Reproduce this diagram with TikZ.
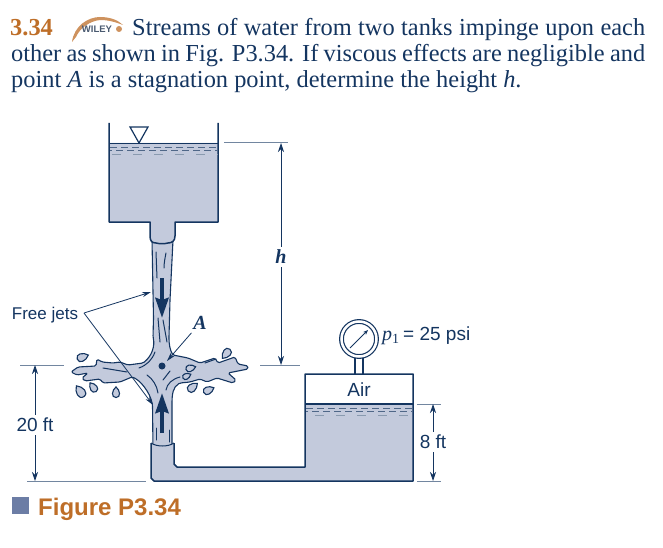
\documentclass[tikz,border=0pt]{standalone}
\usepackage{fontspec}
\setmainfont{Liberation Serif}
\setsansfont{Liberation Sans}
\usetikzlibrary{arrows.meta}
\definecolor{inkblue}{HTML}{143560}
\definecolor{waterblue}{HTML}{C3CADC}
\definecolor{titleorange}{HTML}{BE6E28}
\definecolor{squareblue}{HTML}{6C7DA5}
\begin{document}
\begin{tikzpicture}[
x=1pt,y=-1pt,
textnode/.style={anchor=base west,inner sep=0pt,text=inkblue,font=\fontsize{24.4}{26}\selectfont},
labelnode/.style={inner sep=3pt,text=inkblue,font=\sffamily\fontsize{19}{22}\selectfont},
mathnode/.style={inner sep=3pt,text=inkblue,font=\fontsize{20}{22}\selectfont\itshape},
wall/.style={draw=inkblue,line width=1.5pt,line join=round},
water/.style={fill=waterblue,draw=none},
jet/.style={fill=waterblue,draw=inkblue,line width=1.1pt,line join=round,rounded corners=1.5pt},
flowline/.style={draw=inkblue,line width=1pt,line cap=round},
ripple/.style={draw=inkblue!75,line width=.8pt,dash pattern=on 7pt off 4pt},
rippleoff/.style={draw=inkblue!75,line width=.8pt,dash pattern=on 7pt off 4pt,dash phase=5pt},
rippleshort/.style={draw=inkblue!50,line width=.8pt,dash pattern=on 9pt off 12pt},
dimline/.style={draw=inkblue,line width=.8pt,-{Stealth[length=9pt,width=6pt]}},
leader/.style={draw=inkblue,line width=.8pt,-{Stealth[length=9pt,width=5pt]}},
jetarrow/.style={draw=inkblue,line width=4pt,-{Stealth[length=20pt,width=13pt,inset=2pt]}},
extline/.style={draw=inkblue!60,line width=1pt},
droplet/.style={fill=waterblue,draw=inkblue,line width=1.1pt},
]
\useasboundingbox (0,0) rectangle (663,548);
% problem statement
\node[textnode,text=titleorange,font=\bfseries\fontsize{24.4}{26}\selectfont](num) at (10,36) {3.34};
\draw[draw=none,fill=titleorange!75] (72,42) .. controls (74,26) and (88,17) .. (100,17) .. controls (110,17) and (118,20) .. (123,25) .. controls (113,21) and (106,20) .. (100,20) .. controls (90,21) and (80,28) .. (76,37) -- cycle;
\node[inner sep=0pt,text=inkblue!50!gray,font=\sffamily\bfseries\fontsize{9.5}{10}\selectfont](logo) at (97,29) {WILEY};
\fill[titleorange!75] (119,29) circle (3);
\node[textnode](line1) at (132,36) {\makebox[513pt][s]{Streams of water from two tanks impinge upon each}};
\node[textnode](line2) at (11,62) {\makebox[634pt][s]{other as shown in Fig. P3.34. If viscous effects are negligible and}};
\node[textnode](line3) at (11,88) {point \textit{A} is a stagnation point, determine the height \textit{h}.};
% upper jet and splash
\path[jet] (152,240) -- (153.5,318) -- (153,337) .. controls (155,346) and (152,356) .. (143,363)
  -- (128,365) -- (120,362) -- (113,363) -- (102,362) -- (97,359) -- (96,366) -- (78,367) -- (71,372)
  -- (77,375) -- (88,373) -- (82,378) -- (85,381) -- (100,379) -- (103,383) -- (120,382) -- (132,377)
  .. controls (140,380) and (150,392) .. (152.5,405)
  -- (153,450) -- (172,450) -- (172,405) .. controls (172,394) and (173,387) .. (180,383)
  -- (190,382) -- (200,379) -- (207,382) -- (217,378) -- (233,383) -- (236,380) -- (228,373)
  -- (248,369) -- (248,366) -- (238,364) -- (235,357) -- (218,363) -- (215,358) -- (200,363)
  -- (188,358) -- (173,355) .. controls (170,350) and (169,344) .. (169,337) -- (170,300) -- (173,240) -- cycle;
% flow lines
\draw[flowline] (156,252) -- (157,278);
\draw[flowline] (166,253) .. controls (165,258) and (164,263) .. (164,268);
\draw[flowline] (158,318) -- (160,342);
\draw[flowline] (163,320) -- (167,342);
\draw[flowline] (155,352) .. controls (152,360) and (147,365) .. (139,368);
\draw[flowline] (103,368) -- (127,372);
\draw[flowline] (147,375) .. controls (153,379) and (157,386) .. (158,393);
\draw[flowline] (170,371) -- (163,380);
\draw[flowline] (180,377) .. controls (172,379) and (167,384) .. (166,390);
\draw[flowline] (205,363) -- (216,359);
\draw[flowline] (156,428) -- (156,440);
\draw[flowline] (169,430) -- (169,442);
% jet arrows
\coordinate (jettop) at (162,278);
\coordinate (jettip) at (162,318);
\coordinate (risebot) at (162,433);
\coordinate (risetip) at (162,393);
\draw[jetarrow] (jettop) -- (jettip);
\draw[jetarrow] (risebot) -- (risetip);
% droplets
\foreach \dx/\dy/\rot/\sz in {83/357/20/.95,226/354/-130/.95,191/368/15/.8,187/376/25/.7,193/387/40/.95,209/390/25/.9,80/391/125/1.05,93/387/125/.85,116/392/90/.85}
  \draw[droplet,shift={(\dx,\dy)},rotate=\rot,scale=\sz] (6,0) .. controls (2,-5) and (-6.5,-6) .. (-6.5,0) .. controls (-6.5,6) and (2,5) .. (6,0) -- cycle;
\node[circle,fill=inkblue,inner sep=0pt,minimum size=7pt](stag) at (162,366) {};
% upper tank
\path[water] (109,143) -- (218,143) -- (218,222) -- (175,222) -- (175,236)
  .. controls (175,241) and (172,243) .. (168,243) .. controls (164,244) and (160,244) .. (156,243) .. controls (152,243) and (150,241) .. (150,236)
  -- (150,222) -- (109,222) -- cycle;
\draw[wall] (109,123) -- (109,222) -- (150,222) -- (150,236)
  .. controls (150,241) and (152,243) .. (156,243) .. controls (160,244) and (164,244) .. (168,243) .. controls (172,243) and (175,241) .. (175,236)
  -- (175,222) -- (218,222) -- (218,123);
\draw[draw=inkblue,line width=.9pt] (109,143) -- (218,143);
\draw[ripple] (110,147) -- (218,147);
\draw[rippleoff] (110,150.5) -- (218,150.5);
\draw[rippleshort] (112,154) -- (218,154);
\draw[draw=inkblue,line width=1.2pt,line join=miter] (130,127) -- (148,127) -- (139,143) -- cycle;
% lower tank and pipe
\path[water] (151,443) -- (151,478) -- (154,481) -- (413,481) -- (413,404) -- (305,404) -- (305,467) -- (177,467) -- (174,464) -- (174,443)
  .. controls (168,447) and (157,447) .. (151,443) -- cycle;
\draw[wall] (174,443) -- (174,464) -- (177,467) -- (305,467) -- (305,374) -- (413,374) -- (413,481) -- (154,481) -- (151,478) -- (151,443);
\draw[draw=inkblue,line width=1pt] (151,443) .. controls (157,447) and (168,447) .. (174,443);
\draw[draw=inkblue,line width=1.2pt] (305,404) -- (413,404);
\draw[ripple] (306,408) -- (412,408);
\draw[rippleoff] (306,411) -- (412,411);
\draw[rippleshort] (315,415) -- (412,415);
\node[labelnode](air) at (359,390) {Air};
% gauge
\draw[draw=inkblue,line width=1.1pt] (355,358) -- (355,374) (363,358) -- (363,374);
\node[circle,draw=inkblue,fill=white,double=white,double distance=2.5pt,line width=1.2pt,minimum size=35pt,inner sep=0pt](gauge) at (359,339) {};
\coordinate (needlefrom) at (350,348);
\coordinate (needleto) at (368,330);
\draw[draw=inkblue,line width=1pt,-{Stealth[length=5pt,width=4pt]}] (needlefrom) -- (needleto);
\node[mathnode,anchor=west,inner sep=1pt](pone) at (381,338) {p\textsubscript{\normalfont 1}};
\node[labelnode,anchor=west,inner sep=1pt](psi) at (402,336) {= 25 psi};
% dimensions
\draw[extline] (224,143) -- (288,143);
\draw[extline] (260,365) -- (300,365);
\draw[extline] (20,365) -- (64,365);
\draw[extline] (27,481) -- (146,481);
\draw[extline] (417,404) -- (441,404);
\draw[extline] (417,481) -- (441,481);
\node[mathnode,font=\bfseries\fontsize{20}{22}\selectfont\itshape](hlabel) at (281,257) {h};
\node[labelnode](twenty) at (35,425) {20 ft};
\node[labelnode](eight) at (433,442) {8 ft};
\coordinate (htop) at (281,143);
\coordinate (hbot) at (281,365);
\coordinate (twtop) at (35,365);
\coordinate (twbot) at (35,481);
\coordinate (eitop) at (433,404);
\coordinate (eibot) at (433,481);
\draw[dimline] (hlabel) -- (htop);
\draw[dimline] (hlabel) -- (hbot);
\draw[dimline] (twenty) -- (twtop);
\draw[dimline] (twenty) -- (twbot);
\draw[dimline] (eight) -- (eitop);
\draw[dimline] (eight) -- (eibot);
% free jets and point A
\node[labelnode,inner sep=1pt,font=\sffamily\fontsize{17}{20}\selectfont](free) at (45,315) {Free jets};
\coordinate (freefork) at (84,313);
\coordinate (freeup) at (151,292);
\coordinate (freedown) at (153,405);
\draw[leader] (freefork) -- (freeup);
\draw[leader] (freefork) -- (freedown);
\node[mathnode,font=\bfseries\fontsize{20}{22}\selectfont\itshape](alabel) at (200,323) {A};
\coordinate (atip) at (167,361);
\draw[leader] (alabel) -- (atip);
% caption
\node[fill=squareblue,minimum size=17pt,inner sep=0pt](capsq) at (20.5,505.5) {};
\node[anchor=base west,inner sep=0pt,text=titleorange,font=\sffamily\bfseries\fontsize{24}{26}\selectfont](caption) at (38,515) {Figure P3.34};
\end{tikzpicture}
\end{document}
